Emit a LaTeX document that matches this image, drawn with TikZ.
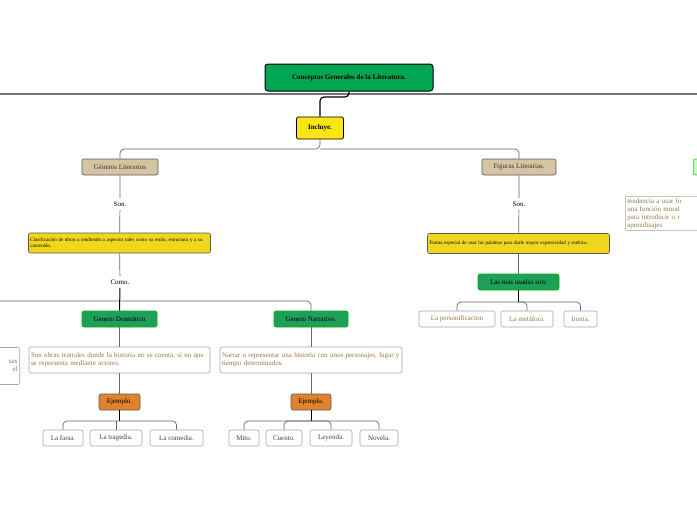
\documentclass[tikz,border=0pt]{standalone}
\usepackage{fontspec}
\setmainfont{Liberation Serif}
\begin{document}
\begin{tikzpicture}[x=1pt,y=-1pt,
 box/.style={draw=#1!70!black,rounded corners=2pt,line width=0.6pt,inner sep=2pt,font=\fontsize{7}{8}\selectfont},
 grn/.style={box=green,fill={rgb,255:red,30;green,160;blue,90},minimum height=16pt},
 tan/.style={box=gray,fill={rgb,255:red,213;green,196;blue,161},minimum height=16pt,text=black!80},
 yel/.style={box=gray,fill={rgb,255:red,240;green,215;blue,30},font=\fontsize{5}{6}\selectfont,text width=178pt,align=left,minimum height=20pt},
 org/.style={box=gray,fill={rgb,255:red,225;green,130;blue,45},minimum height=16pt},
 wt/.style={box=gray,draw=gray!70,fill=white,text={rgb,255:red,150;green,120;blue,70},align=left,minimum height=26pt},
 lf/.style={box=gray,draw=gray!70,fill=white,minimum height=16pt,text=black!75},
 lfb/.style={lf,text={rgb,255:red,150;green,120;blue,70}},
 lab/.style={font=\fontsize{7}{8}\selectfont},
 cn/.style={draw=gray!80!black,line width=0.7pt,rounded corners=4pt}]
\useasboundingbox (0,0) rectangle (697,520);
% main line
\draw[gray!90!black,line width=1.6pt] (0,94) -- (697,94);
\node[draw=black,line width=1pt,rounded corners=3pt,fill={rgb,255:red,0;green,166;blue,81},minimum width=168pt,minimum height=27pt,font=\fontsize{7}{8}\selectfont\bfseries] (t) at (349,77.5) {Conceptos Generales de la Literatura.};
\node[draw=black,line width=0.8pt,rounded corners=2pt,fill={rgb,255:red,250;green,230;blue,20},minimum width=47pt,minimum height=22pt,font=\fontsize{7}{8}\selectfont\bfseries] (inc) at (320,128) {Incluye.};
\draw[black,line width=1.2pt,rounded corners=4pt] (t.south) -- (349,97) -- (320,97) -- (inc.north);
% Generos
\node[tan,minimum width=76pt] (gl) at (120,167) {Géneros Literarios};
\node[tan,minimum width=74pt] (fl) at (519,167) {Figuras Literarias.};
\draw[cn] (inc.south) -- (320,149) -- (120,149) -- (gl.north);
\draw[cn] (320,149) -- (519,149) -- (fl.north);
\node[lab] (s1) at (120,204) {Son.};
\node[lab] (s2) at (519,204) {Son.};
\node[yel] (y1) at (119.5,243) {Clasificación de obras a tendiendo a aspectos tales como su estilo, estructura y a su contenido.};
\node[yel] (y2) at (518.5,243.5) {Forma especial de usar las palabras para darle mayor expresividad y estética.};
\draw[cn] (gl) -- (s1) -- (y1);
\draw[cn] (fl) -- (s2) -- (y2);
\node[lab] (como) at (120,282) {Como.};
\draw[cn] (y1) -- (como);
% Figuras branch
\node[grn,minimum width=81pt] (mu) at (518.5,282) {Las mas usadas son:};
\draw[cn] (y2) -- (mu);
\node[lfb,minimum width=76pt] (p1) at (457,319) {La personificacion};
\node[lfb,minimum width=52pt] (p2) at (527,319) {La metáfora.};
\node[lfb,minimum width=33pt] (p3) at (580.5,319) {Ironía.};
\draw[black,line width=1pt] (mu.south) -- (518.5,302);
\draw[cn] (p1.north) -- (457,302) -- (580.5,302) -- (p3.north);
\draw[cn] (518.5,302) -- (527,302) -- (p2.north);
% Genero
\node[grn,minimum width=75pt] (gd) at (119.5,319) {Genero Dramático};
\node[grn,minimum width=74pt] (gn) at (311,319) {Genero Narrativo.};
\coordinate (lend) at (0,301);
\draw[cn] (lend) -- (311,301) -- (gn.north);
\draw[black,line width=1pt] (como.south) -- (gd.north);
\node[wt,text width=177pt] (d1) at (119.5,360) {Son obras teatrales donde la historia no se cuenta, si no que se representa mediante actores.};
\node[wt,text width=178pt] (d2) at (311,360) {Narrar o representar una historia con unos personajes, lugar y tiempo determinados.};
\draw[cn] (gd) -- (d1);
\draw[cn] (gn) -- (d2);
\node[org,minimum width=41pt] (e1) at (119.5,402) {Ejemplo.};
\node[org,minimum width=40pt] (e2) at (311,402) {Ejemplo.};
\draw[cn] (d1) -- (e1);
\draw[cn] (d2) -- (e2);
\node[lf,minimum width=40pt] (a1) at (63,438) {La farsa.};
\node[lf,minimum width=52pt] (a2) at (116,438) {La tragedia.};
\node[lf,minimum width=53pt] (a3) at (176.5,438) {La comedia.};
\draw[black,line width=1pt] (e1.south) -- (119.5,421);
\draw[cn] (a1.north) -- (63,421) -- (176.5,421) -- (a3.north);
\draw[cn] (116,421) -- (a2.north);
\node[lf,minimum width=30pt] (b1) at (244,438) {Mito.};
\node[lf,minimum width=36pt] (b2) at (284,438) {Cuento.};
\node[lf,minimum width=42pt] (b3) at (331,438) {Leyenda.};
\node[lf,minimum width=38pt] (b4) at (379,438) {Novela.};
\draw[black,line width=1pt] (e2.south) -- (311,421);
\draw[cn] (b1.north) -- (244,421) -- (379,421) -- (b4.north);
\draw[cn] (b2.north) -- (284,421) -- (331,421) -- (b3.north);
% partial elements at edges
\node[wt,text width=40pt,minimum height=37pt,anchor=east] (lp) at (20,366) {\hfill sus\\ \hfill el};
\node[box=green,draw=green!40!gray,fill=green!25,minimum width=20pt,minimum height=16pt,anchor=west] (rg) at (693,167) {};
\node[wt,text width=90pt,anchor=north west] (rt) at (625,196) {tendencia a usar lo\\una función moral\\para introducir o r\\aprendizajes};
\end{tikzpicture}
\end{document}
